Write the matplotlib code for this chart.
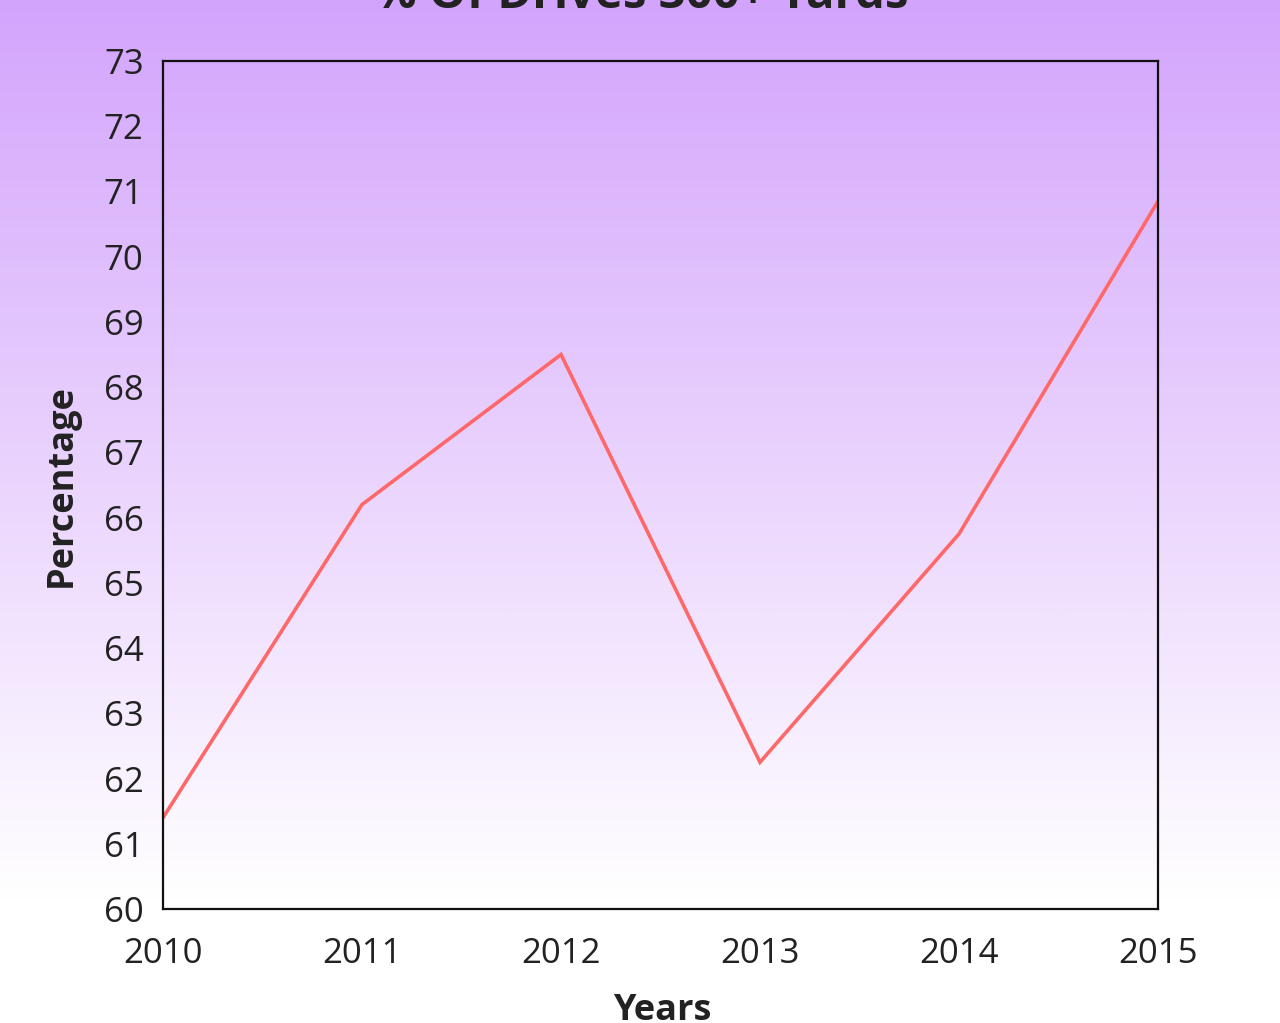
import numpy as np
import matplotlib
matplotlib.use("Agg")
import matplotlib.pyplot as plt
from matplotlib.colors import LinearSegmentedColormap

plt.rcParams['font.family'] = ['Open Sans', 'DejaVu Sans']

years = [2010, 2011, 2012, 2013, 2014, 2015]
pct = [61.4, 66.2, 68.5, 62.25, 65.75, 70.85]
yticks = list(range(60, 74))
title = "% Of Drives 300+ Yards"

fig = plt.figure(figsize=(12.8, 10.23), dpi=100)

# background gradient over whole figure
bg = fig.add_axes([0, 0, 1, 1], zorder=-10)
cmap = LinearSegmentedColormap.from_list("bgc", [(0.0, "#FFFFFF"), (0.12, "#FFFFFF"), (1.0, "#D3A4FC")])
grad = np.linspace(0, 1, 512).reshape(-1, 1)
bg.imshow(grad, aspect='auto', cmap=cmap, origin='lower', extent=[0, 1, 0, 1])
bg.set_axis_off()

ax = fig.add_axes([163/1280, 1-909/1023, (1158-163)/1280, (909-61)/1023])
ax.patch.set_alpha(0)
ax.plot(years, pct, color="#FF6868", lw=2.6, solid_joinstyle='miter')
ax.set_xlim(2010, 2015)
ax.set_ylim(60, 73)
ax.set_yticks(yticks)
ax.set_xticks(years)
ax.tick_params(length=0, labelsize=25, colors="#222222", pad=14)
ax.tick_params(axis='x', pad=20)
for s in ax.spines.values():
    s.set_color("#111111")
    s.set_linewidth(1.6)

fig.text(662/1280, 3/1023, "Years", ha='center', va='baseline', fontsize=26, fontweight='bold', color="#222222")
fig.text(62/1280, 1-486/1023, "Percentage", ha='center', va='center', rotation=90, fontsize=26, fontweight='bold', color="#222222")
fig.text(641/1280, 1-8/1023, title, ha='center', va='baseline', fontsize=34, fontweight='bold', color="#222222")

fig.savefig("out.png", dpi=100)
